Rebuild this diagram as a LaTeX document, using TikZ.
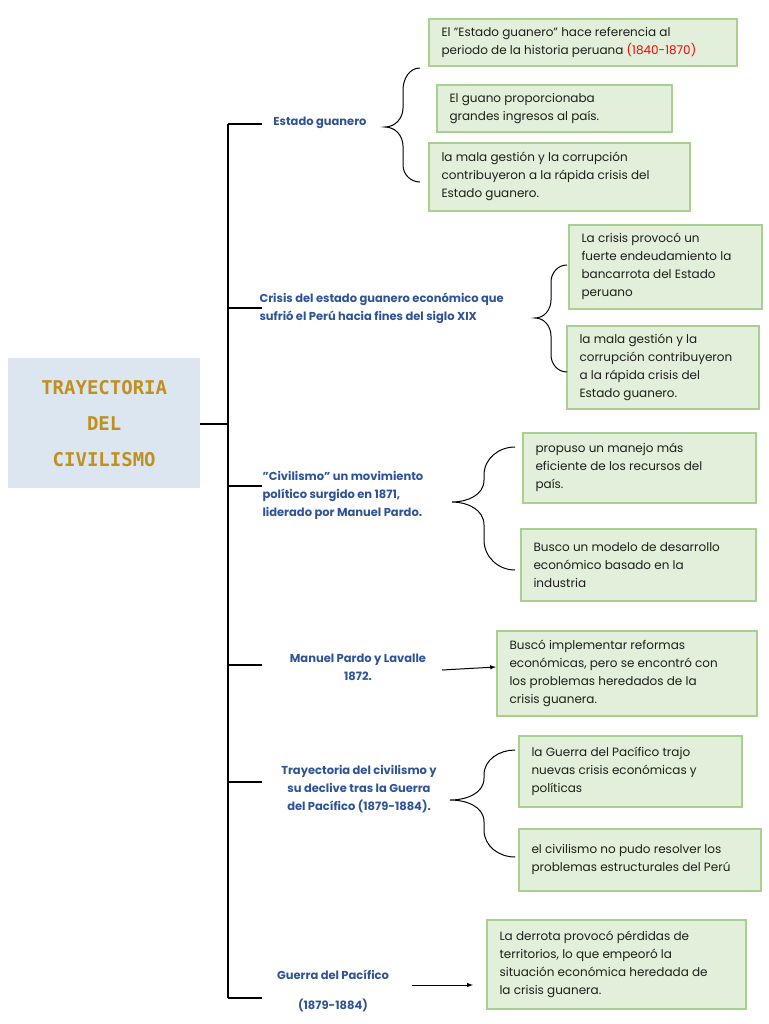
\documentclass[tikz,border=0pt]{standalone}
\usepackage{fontspec}
\setmainfont{Poppins}
\newfontfamily\monof{DejaVu Sans Mono}
\begin{document}
\begin{tikzpicture}[x=1pt,y=-1pt,
  gbox/.style={draw=green!30!black!30!green!45,fill=green!10!white,draw={rgb,255:red,169;green,208;blue,142},fill={rgb,255:red,226;green,239;blue,218},line width=1.6pt,anchor=north west,inner sep=0pt},
  btxt/.style={font=\fontsize{12}{18}\selectfont,align=left,text={rgb,255:red,30;green,30;blue,30}},
  lab/.style={font=\bfseries\fontsize{11.5}{18}\selectfont,text={rgb,255:red,47;green,84;blue,150}},
  spine/.style={line width=2.8pt},
  br/.style={line width=1pt},
  arr/.style={-latex,line width=1pt}]
\useasboundingbox (0,0) rectangle (768,1024);
% title
\node[fill={rgb,255:red,220;green,230;blue,241},minimum width=192,minimum height=130,anchor=north west,inner sep=0] (title) at (8,358) {};
\node[font=\monof\bfseries\fontsize{19}{36}\selectfont,text={rgb,255:red,192;green,144;blue,30},align=center] at (title.center) {TRAYECTORIA\\DEL\\CIVILISMO};
\coordinate (sT) at (228,124); \coordinate (sB) at (228,998);
\draw[spine] (sT) -- (sB);
\coordinate (sm) at (228,424);
\draw[spine] (title.east |- sm) -- (sm);
\foreach \y/\n in {124/a,308/b,486/c,665/d,782/e,998/f}{
  \coordinate (s\n) at (228,\y); \coordinate (e\n) at (262,\y);
  \draw[spine] (s\n) -- (e\n);}
% labels
\node[lab] (l1) at (320,123) {Estado guanero};
\node[lab,align=left,anchor=west] (l2) at (256,308) {Crisis del estado guanero económico que\\sufrió el Perú hacia fines del siglo XIX};
\node[lab,align=left,anchor=west] (l3) at (259,495) {"Civilismo" un movimiento\\político surgido en 1871,\\liderado por Manuel Pardo.};
\node[lab,align=center] (l4) at (358,667) {Manuel Pardo y Lavalle\\1872.};
\node[lab,align=center] (l5) at (359,789) {Trayectoria del civilismo y\\su declive tras la Guerra\\del Pacífico (1879-1884).};
\node[lab] (l6) at (333,975) {Guerra del Pacífico};
\node[lab] (l6b) at (333,1005) {(1879-1884)};
% boxes
\node[gbox,minimum width=308,minimum height=47] (a) at (428,18) {};
\node[btxt,anchor=west] at ([xshift=10]a.west) {El "Estado guanero" hace referencia al\\periodo de la historia peruana \textcolor{red}{(1840-1870)}};
\node[gbox,minimum width=235,minimum height=47] (b) at (436,84) {};
\node[btxt,anchor=west] at ([xshift=10]b.west) {El guano proporcionaba\\grandes ingresos al país.};
\node[gbox,minimum width=261,minimum height=68] (c) at (428,142) {};
\node[btxt,anchor=west] at ([xshift=10]c.west) {la mala gestión y la corrupción\\contribuyeron a la rápida crisis del\\Estado guanero.};
\node[gbox,minimum width=193,minimum height=84] (d) at (568,224) {};
\node[btxt,anchor=west] at ([xshift=10]d.west) {La crisis provocó un\\fuerte endeudamiento la\\bancarrota del Estado\\peruano};
\node[gbox,minimum width=192,minimum height=83] (e) at (566,325) {};
\node[btxt,anchor=west] at ([xshift=10]e.west) {la mala gestión y la\\corrupción contribuyeron\\a la rápida crisis del\\Estado guanero.};
\node[gbox,minimum width=233,minimum height=70] (f) at (522,432) {};
\node[btxt,anchor=west] at ([xshift=10]f.west) {propuso un manejo más\\eficiente de los recursos del\\país.};
\node[gbox,minimum width=235,minimum height=72] (g) at (520,528) {};
\node[btxt,anchor=west] at ([xshift=10]g.west) {Busco un modelo de desarrollo\\económico basado en la\\industria};
\node[gbox,minimum width=260,minimum height=85] (h) at (496,630) {};
\node[btxt,anchor=west] at ([xshift=10]h.west) {Buscó implementar reformas\\económicas, pero se encontró con\\los problemas heredados de la\\crisis guanera.};
\node[gbox,minimum width=223,minimum height=71] (i) at (518,735) {};
\node[btxt,anchor=west] at ([xshift=10]i.west) {la Guerra del Pacífico trajo\\nuevas crisis económicas y\\políticas};
\node[gbox,minimum width=242,minimum height=62] (j) at (518,828) {};
\node[btxt,anchor=west] at ([xshift=10]j.west) {el civilismo no pudo resolver los\\problemas estructurales del Perú};
\node[gbox,minimum width=259,minimum height=89] (k) at (486,919) {};
\node[btxt,anchor=west] at ([xshift=10]k.west) {La derrota provocó pérdidas de\\territorios, lo que empeoró la\\situación económica heredada de\\la crisis guanera.};
% braces
\draw[br] (420,68) to[out=180,in=90] (403,90) -- (403,108) to[out=270,in=0] (385,127) to[out=0,in=90] (403,146) -- (403,165) to[out=270,in=180] (420,182);
\draw[br] (567,265) to[out=180,in=90] (551,282) -- (551,300) to[out=270,in=0] (535,318) to[out=0,in=90] (551,336) -- (551,355) to[out=270,in=180] (567,372);
\draw[br] (515,447) to[out=180,in=90] (484,475) -- (484,480) to[out=270,in=0] (452,502) to[out=0,in=90] (484,525) -- (484,540) to[out=270,in=180] (515,570);
\draw[br] (515,750) to[out=180,in=90] (484,775) -- (484,778) to[out=270,in=0] (450,800) to[out=0,in=90] (484,822) -- (484,830) to[out=270,in=180] (515,857);
% arrows
\coordinate (p1) at (442,670); \coordinate (p2) at (412,985);
\draw[arr] (p1) -- (h.west |- 0,667);
\draw[arr] (p2) -- (473,985);
\end{tikzpicture}
\end{document}
